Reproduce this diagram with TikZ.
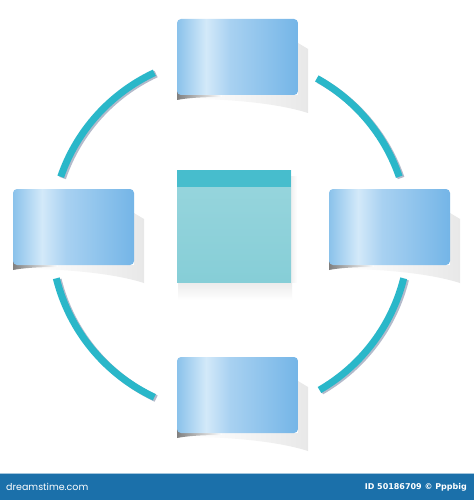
\documentclass[tikz,border=0pt]{standalone}
\usepackage{fontspec}
\newfontfamily\logofont{Poppins}
\newfontfamily\idfont{DejaVu Sans}
\definecolor{teal1}{HTML}{2AB7C9}
\definecolor{arcshadow}{HTML}{B3BACB}
\definecolor{band}{HTML}{47BDCD}
\definecolor{note}{HTML}{86CED7}
\definecolor{footer}{HTML}{1B70AA}
\definecolor{bA}{HTML}{8AC2EB}
\definecolor{bB}{HTML}{D3E9F9}
\definecolor{bC}{HTML}{A8D1F1}
\definecolor{bD}{HTML}{74B5E7}
\pgfdeclarehorizontalshading{cardshade}{100bp}{color(0bp)=(bA); color(25bp)=(bA); color(37bp)=(bB); color(47bp)=(bC); color(75bp)=(bD); color(100bp)=(bD)}
\tikzset{
  ring/.style={line width=7pt, teal1},
  ringshadow/.style={line width=7pt, arcshadow},
  card/.style={shading=cardshade, rounded corners=4pt},
}
\newcommand{\mycard}[2]{%
  % #1 = left, #2 = top (pixel coords)
  \begin{scope}[shift={(#1,#2)}]
    \shade[left color=white, right color=black!9]
      (121,24) -- (131,30) -- (131,94) .. controls (100,84) and (50,80) .. (15,80) -- (15,76) -- (121,76) -- cycle;
    \shade[left color=black!50, right color=white]
      (0,72) -- (0,81) .. controls (10,79) and (25,78) .. (45,78) -- (45,72) -- cycle;
    \path[card] (0,0) rectangle (121,76);
  \end{scope}}
\begin{document}
\begin{tikzpicture}[x=1pt,y=-1pt]
\useasboundingbox (0,0) rectangle (474,500);
\fill[white] (0,0) rectangle (474,500);
% ring arcs (screen angles, y downwards)
\coordinate (c) at (230,235);
\foreach \a/\b in {-115/-161, -19/-61, 14/60, 166/115}{
  \draw[ringshadow] ([shift={(1.8,1.3)}]c) ++(\a:179) arc[start angle=\a, end angle=\b, radius=179];
  \draw[ring] (c) ++(\a:179) arc[start angle=\a, end angle=\b, radius=179];
}
% cards
\mycard{177}{19}
\mycard{13}{189}
\mycard{329}{189}
\mycard{177}{357}
% central sticky note
\shade[top color=black!8, bottom color=white] (178,282) rectangle (292,300);
\shade[left color=black!6, right color=white] (291,176) rectangle (297,282);
\shade[top color=note!85!white, bottom color=note] (177,170) rectangle (291,282);
\fill[band] (177,170) rectangle (291,187);
% footer
\fill[footer] (0,473) rectangle (474,500);
\draw[white!60!footer, line width=0.8pt] (0,473.4) -- (474,473.4);
\node[anchor=west, text=white, font=\logofont\fontsize{9.5}{11}\selectfont, inner sep=0pt] (logo) at (6,487) {dreamstime.com};
\node[anchor=east, text=white, font=\idfont\bfseries\fontsize{8}{9}\selectfont, inner sep=0pt] (id) at (467,487) {ID 50186709 \textcopyright{} Pppbig};
\end{tikzpicture}
\end{document}
